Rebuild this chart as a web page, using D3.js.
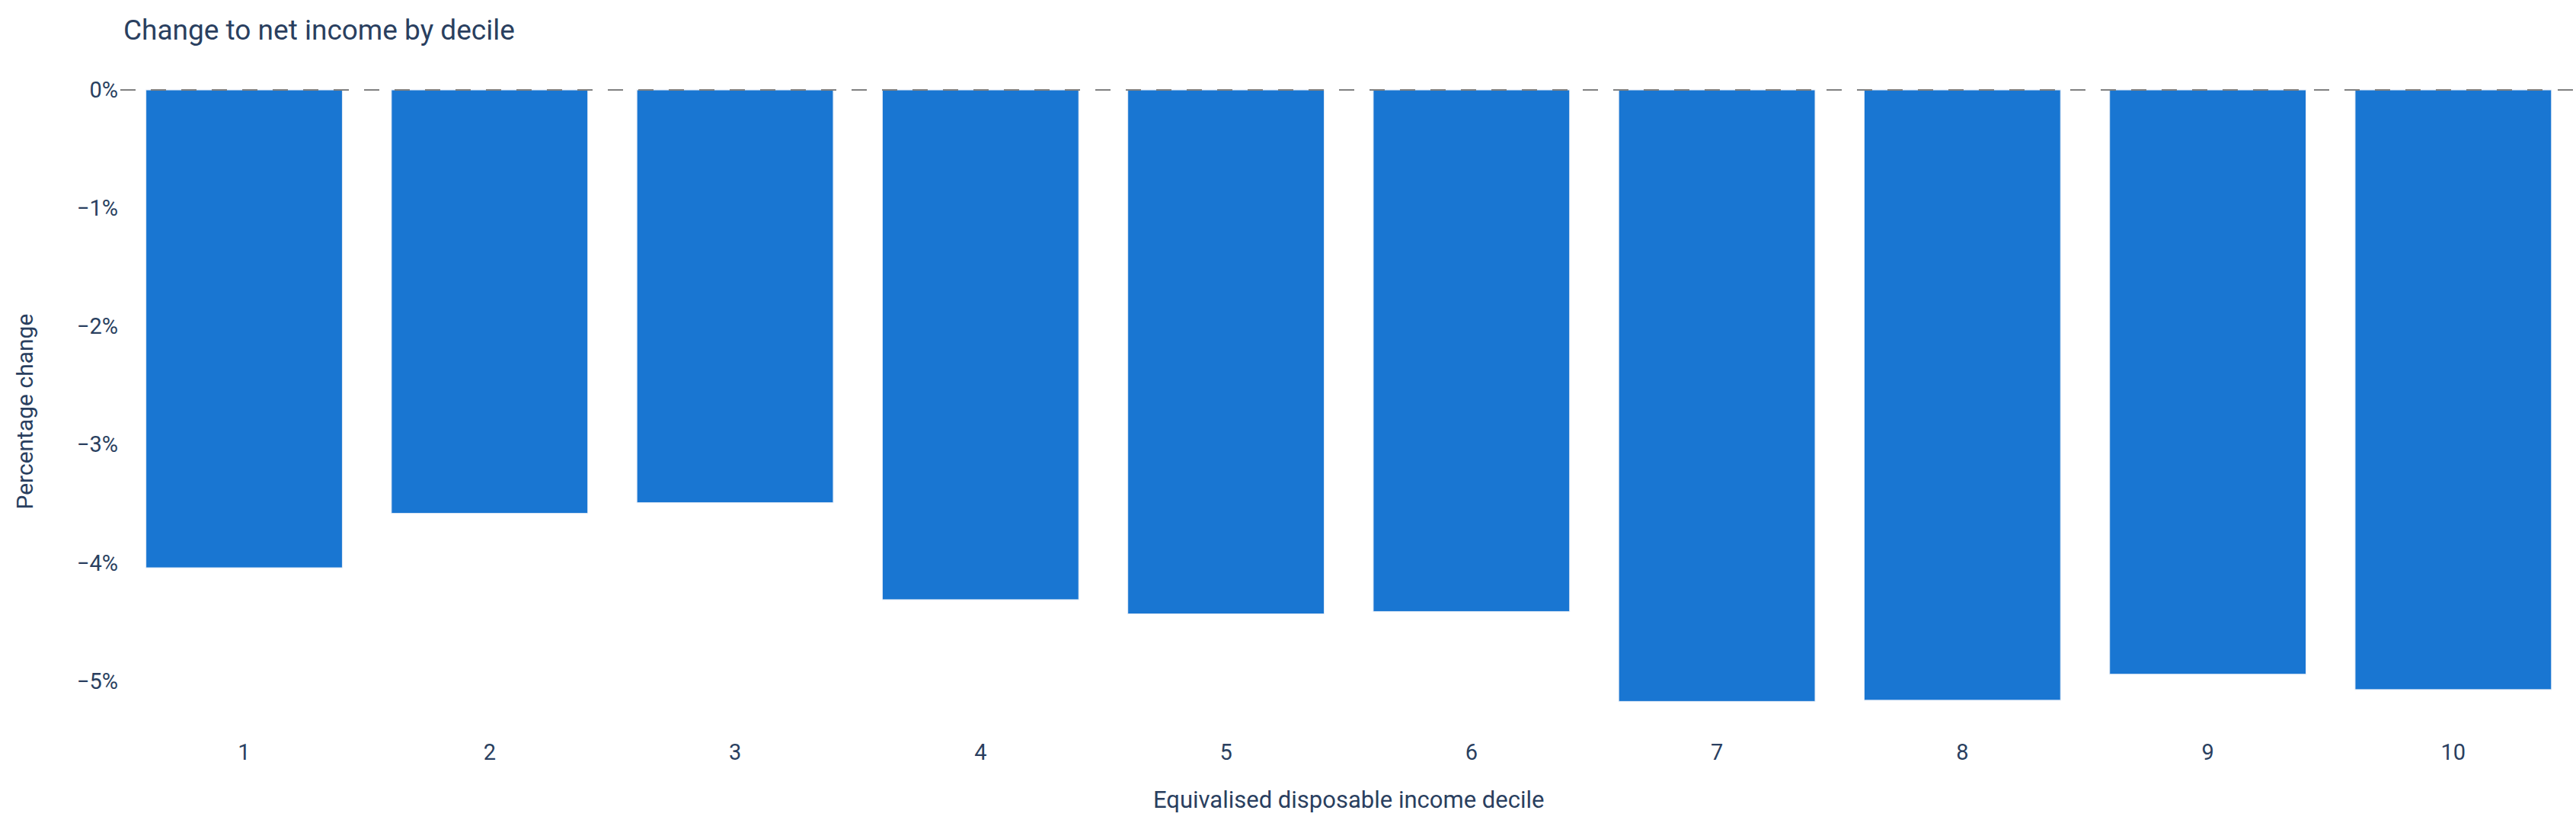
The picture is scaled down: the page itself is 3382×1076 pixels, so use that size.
<!DOCTYPE html>
<html>
<head>
<meta charset="utf-8">
<script src="https://cdn.jsdelivr.net/npm/d3@7"></script>
<style>
  html, body { margin: 0; padding: 0; background: #fff; }
  svg { display: block; font-family: Roboto, "Noto Sans", sans-serif; }
</style>
</head>
<body>
<svg id="chart" width="3382" height="1076"></svg>
<script>
const deciles = ["1", "2", "3", "4", "5", "6", "7", "8", "9", "10"];
const changePct = [-4.04, -3.58, -3.49, -4.31, -4.43, -4.41, -5.17, -5.16, -4.94, -5.07];
const yTickValues = [0, -1, -2, -3, -4, -5];
const titleText = "Change to net income by decile";
const xTitleText = "Equivalised disposable income decile";
const yTitleText = "Percentage change";

const W = 3382, H = 1076;
const plot = { left: 159.4, right: 3382, top: 118, bottom: 962.3 };
const textColor = "#2a3f5f";

const svg = d3.select("#chart");

const x = d3.scaleBand()
  .domain(deciles)
  .range([plot.left, plot.right])
  .paddingInner(0.2)
  .paddingOuter(0.1);

const y = d3.scaleLinear()
  .domain([-5.44, 0])
  .range([plot.bottom, plot.top]);

// bars
svg.append("g")
  .selectAll("rect")
  .data(deciles.map((d, i) => ({ d, v: changePct[i] })))
  .join("rect")
  .attr("x", d => x(d.d))
  .attr("width", x.bandwidth())
  .attr("y", d => y(Math.max(0, d.v)))
  .attr("height", d => Math.abs(y(d.v) - y(0)))
  .attr("fill", "#1976D2")
  .attr("stroke", "#E5ECF6")
  .attr("stroke-width", 1);

// y axis
const fmt = v => (v < 0 ? "\u2212" + Math.abs(v) : String(v)) + "%";
const yAxis = d3.axisLeft(y).tickValues(yTickValues).tickFormat(fmt).tickSize(0).tickPadding(4.4);
const gy = svg.append("g").attr("transform", `translate(${plot.left},0)`).call(yAxis);
gy.select(".domain").remove();
gy.selectAll("text")
  .attr("font-size", 29)
  .attr("font-family", "Roboto")
  .attr("fill", textColor);

// x axis
const xAxis = d3.axisBottom(x).tickSize(0).tickPadding(0);
const gx = svg.append("g").attr("transform", `translate(0,${plot.bottom})`).call(xAxis);
gx.select(".domain").remove();
gx.selectAll("text")
  .attr("font-size", 29)
  .attr("font-family", "Roboto")
  .attr("fill", textColor)
  .attr("dy", null)
  .attr("y", 997 - plot.bottom);

// zero dashed line
svg.append("line")
  .attr("x1", 158).attr("x2", W)
  .attr("y1", y(0)).attr("y2", y(0))
  .attr("stroke", "#808080")
  .attr("stroke-width", 2.2)
  .attr("stroke-dasharray", "20,20");

// title
svg.append("text")
  .attr("x", 162).attr("y", 52)
  .attr("font-size", 37)
  .attr("fill", textColor)
  .text(titleText);

// x axis title
svg.append("text")
  .attr("x", (plot.left + plot.right) / 2).attr("y", 1060)
  .attr("text-anchor", "middle")
  .attr("font-size", 31)
  .attr("fill", textColor)
  .text(xTitleText);

// y axis title
svg.append("text")
  .attr("transform", `translate(43,${(plot.top + plot.bottom) / 2}) rotate(-90)`)
  .attr("text-anchor", "middle")
  .attr("font-size", 30)
  .attr("fill", textColor)
  .text(yTitleText);
</script>
</body>
</html>
